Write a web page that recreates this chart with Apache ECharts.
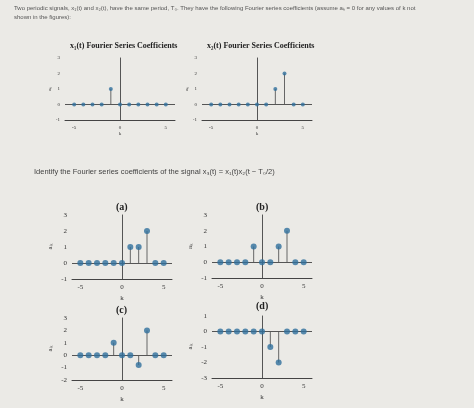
<!DOCTYPE html>
<html>
<head>
<meta charset="utf-8">
<title>Fourier coefficients</title>
<script src="https://cdn.jsdelivr.net/npm/echarts@6/dist/echarts.min.js"></script>
<style>html,body{margin:0;background:#ebeae6}#main{width:474px;height:408px}</style>
</head>
<body>
<div id="main"></div>
<script>
var ks = [-5, -4, -3, -2, -1, 0, 1, 2, 3, 4, 5];
var x1Vals = [0, 0, 0, 0, 1, 0, 0, 0, 0, 0, 0];
var x2Vals = [0, 0, 0, 0, 0, 0, 0, 1, 2, 0, 0];
var aVals = [0, 0, 0, 0, 0, 0, 1, 1, 2, 0, 0];
var bVals = [0, 0, 0, 0, 1, 0, 0, 1, 2, 0, 0];
var cVals = [0, 0, 0, 0, 1, 0, 0, -0.8, 2, 0, 0];
var dVals = [0, 0, 0, 0, 0, 0, -1, -2, 0, 0, 0];

var chart = echarts.init(document.getElementById('main'));
var grids = [], xAxes = [], yAxes = [], series = [], texts = [];

// one stem panel: grid rect, values, y range, title, small fonts or not
function panel(rect, vals, ymin, ymax, title, titleY, small) {
    var i = grids.length;
    grids.push({left: rect[0], top: rect[1], width: rect[2], height: rect[3]});
    var fs = small ? 5 : 7;
    xAxes.push({
        type: 'value', gridIndex: i, min: -6, max: 6, interval: 1,
        name: 'k', nameLocation: 'middle', nameGap: small ? 10 : 16,
        nameTextStyle: {fontFamily: 'Liberation Serif', fontSize: fs, color: '#333'},
        axisLine: {onZero: false, lineStyle: {color: '#444'}},
        axisTick: {show: false}, splitLine: {show: false},
        axisLabel: {fontFamily: 'Liberation Serif', fontSize: fs, color: '#333', margin: 5,
            formatter: function (v) { return v % 5 === 0 ? v : ''; }}
    });
    yAxes.push({
        type: 'value', gridIndex: i, min: ymin, max: ymax, interval: 1,
        name: 'aₖ', nameLocation: 'middle', nameGap: small ? 11 : 18, nameRotate: 90,
        nameTextStyle: {fontFamily: 'Liberation Serif', fontSize: fs, color: '#333'},
        axisLine: {show: true, lineStyle: {color: '#444'}},
        axisTick: {show: false}, splitLine: {show: false},
        axisLabel: {fontFamily: 'Liberation Serif', fontSize: fs, color: '#333', margin: 5}
    });
    var pts = ks.map(function (k, j) { return [k, vals[j]]; });
    series.push({
        type: 'bar', xAxisIndex: i, yAxisIndex: i, barWidth: 1, data: pts,
        itemStyle: {color: '#666'}, silent: true,
        markLine: {symbol: 'none', silent: true, label: {show: false},
            lineStyle: {color: '#555', type: 'solid', width: 1},
            data: [{xAxis: 0}, {yAxis: 0}]}
    });
    series.push({
        type: 'scatter', xAxisIndex: i, yAxisIndex: i, data: pts,
        symbolSize: small ? 4 : 6, itemStyle: {color: '#2f6f9c'}, z: 5
    });
    texts.push({type: 'text', left: rect[0] + rect[2] / 2 - (small ? 50 : 6), top: titleY,
        style: {text: title, font: 'bold ' + (small ? 8 : 10) + 'px "Liberation Serif"', fill: '#222'}});
}

panel([65, 58, 110, 62], x1Vals, -1, 3, 'x₁(t) Fourier Series Coefficients', 42, true);
panel([202, 58, 110, 62], x2Vals, -1, 3, 'x₂(t) Fourier Series Coefficients', 42, true);
panel([72, 215, 100, 64], aVals, -1, 3, '(a)', 202, false);
panel([212, 215, 100, 63], bVals, -1, 3, '(b)', 202, false);
panel([72, 318, 100, 62], cVals, -2, 3, '(c)', 305, false);
panel([212, 316, 100, 62], dVals, -3, 1, '(d)', 301, false);

texts.push({type: 'text', left: 14, top: 4, style: {
    text: 'Two periodic signals, x₁(t) and x₂(t), have the same period, T₀. They have the following Fourier series coefficients (assume aₖ = 0 for any values of k not\nshown in the figures):',
    font: '6px "Liberation Sans"', fill: '#555', lineHeight: 9}});
texts.push({type: 'text', left: 34, top: 168, style: {
    text: 'Identify the Fourier series coefficients of the signal x₃(t) = x₁(t)x₂(t − T₀/2)',
    font: '7.5px "Liberation Sans"', fill: '#444'}});

chart.setOption({
    backgroundColor: '#ebeae6',
    animation: false,
    grid: grids, xAxis: xAxes, yAxis: yAxes, series: series,
    graphic: texts
});
</script>
</body>
</html>
